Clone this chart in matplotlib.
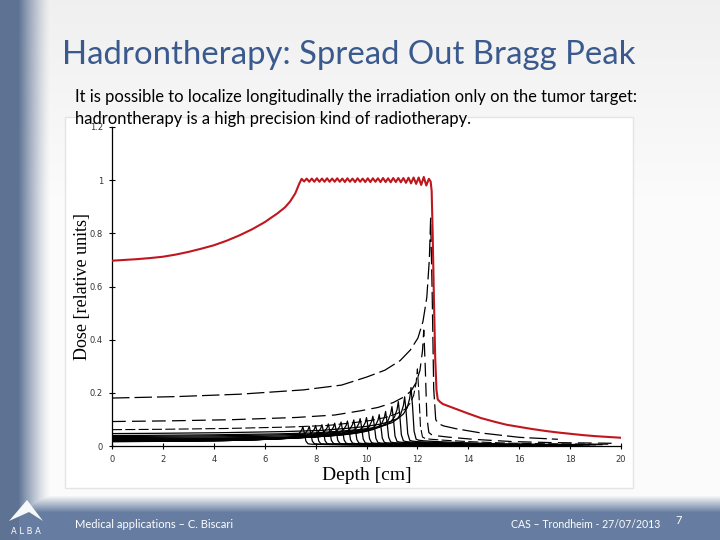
import numpy as np
import matplotlib
matplotlib.use("Agg")
import matplotlib.pyplot as plt
from matplotlib.patches import Rectangle, Polygon

# ---------------- data ----------------
# SOBP (red) curve: depth [cm], dose [rel]
sobp_depth = [0.0, 0.5, 1.0, 1.5, 2.0, 2.5, 3.0, 3.5, 4.0, 4.5, 5.0, 5.5, 6.0, 6.5, 6.8, 7.0, 7.2, 7.35, 7.45,
              7.55, 7.65, 7.75, 7.85, 7.95, 8.05, 8.15, 8.25, 8.35, 8.45, 8.55, 8.65, 8.75, 8.85, 8.95,
              9.05, 9.15, 9.25, 9.35, 9.45, 9.55, 9.65, 9.75, 9.85, 9.95, 10.05, 10.15, 10.25, 10.35,
              10.45, 10.55, 10.65, 10.75, 10.85, 10.95, 11.05, 11.15, 11.25, 11.35, 11.45, 11.55, 11.65,
              11.75, 11.85, 11.95, 12.05, 12.15, 12.25, 12.35, 12.45, 12.52,
              12.56, 12.60, 12.65, 12.70, 12.75, 12.80, 12.90, 13.0, 13.5, 14.0, 14.5, 15.0, 15.5, 16.0,
              16.5, 17.0, 17.5, 18.0, 18.5, 19.0, 19.5, 20.0]
sobp_dose = [0.697, 0.700, 0.703, 0.707, 0.712, 0.720, 0.730, 0.742, 0.755, 0.772, 0.792, 0.815, 0.842, 0.875,
             0.898, 0.920, 0.950, 0.985, 1.005,
             0.995, 1.006, 0.994, 1.006, 0.994, 1.007, 0.994, 1.006, 0.994, 1.007, 0.994, 1.006, 0.994,
             1.007, 0.994, 1.006, 0.993, 1.007, 0.994, 1.006, 0.993, 1.007, 0.994, 1.006, 0.993, 1.007,
             0.993, 1.007, 0.994, 1.007, 0.993, 1.008, 0.993, 1.007, 0.992, 1.008, 0.993, 1.008, 0.992,
             1.008, 0.990, 1.009, 0.988, 1.010, 0.986, 1.010, 0.982, 1.012, 0.980, 1.005, 0.995,
             0.960, 0.800, 0.550, 0.330, 0.210, 0.175, 0.165, 0.158, 0.140, 0.122, 0.105, 0.092, 0.080,
             0.072, 0.064, 0.057, 0.051, 0.046, 0.041, 0.037, 0.034, 0.031]

# single Bragg peak shape read from the largest peak: offset from range [cm] and dose / entrance dose
bragg_offset = [-12.5, -10.0, -7.5, -5.0, -3.5, -2.5, -1.8, -1.2, -0.8, -0.5, -0.3, -0.15, -0.05, 0.0,
                0.06, 0.12, 0.2, 0.3, 0.5, 1.0, 2.0, 3.5, 5.0, 7.5]
bragg_ratio = [1.0, 1.03, 1.08, 1.17, 1.27, 1.44, 1.58, 1.78, 2.0, 2.25, 2.6, 3.1, 3.9, 4.75,
               3.2, 1.2, 0.55, 0.47, 0.42, 0.36, 0.27, 0.18, 0.14, 0.11]

# individual weighted peaks (black): range [cm] and peak dose
peak_range = [7.5, 7.75, 8.0, 8.25, 8.5, 8.75, 9.0, 9.25, 9.5, 9.75, 10.0, 10.25, 10.5, 10.75,
              11.0, 11.25, 11.5, 11.75, 12.0, 12.25, 12.52]
peak_dose = [0.072, 0.074, 0.077, 0.080, 0.083, 0.086, 0.090, 0.094, 0.098, 0.103, 0.107, 0.112,
             0.118, 0.130, 0.148, 0.167, 0.185, 0.220, 0.290, 0.436, 0.857]

x_ticks = [0, 2, 4, 6, 8, 10, 12, 14, 16, 18, 20]
y_ticks = [0, 0.2, 0.4, 0.6, 0.8, 1.0, 1.2]
y_tick_labels = ["0", "0.2", "0.4", "0.6", "0.8", "1", "1.2"]

# ---------------- figure / slide background ----------------
W, H = 720, 540
fig = plt.figure(figsize=(7.2, 5.4), dpi=100)

bg_ax = fig.add_axes([0, 0, 1, 1], zorder=-10)
bg_ax.set_axis_off()
yy, xx = np.mgrid[0:H, 0:W].astype(float)
base = 0.94 + 0.045 * np.clip(yy / 200.0, 0, 1)
img = np.dstack([base, base, base])
slate = np.array([0.37, 0.45, 0.58])
a_left = np.clip((50 - xx) / 32.0, 0, 1) ** 1.3
a_foot = np.clip((yy - 495) / 17.0, 0, 1)
a = np.maximum(a_left, a_foot)
foot_col = np.array([0.40, 0.49, 0.63])
col = np.where(a_foot[..., None] > a_left[..., None], foot_col, slate)
img = img * (1 - a[..., None]) + col * a[..., None]
bg_ax.imshow(img, extent=[0, W, H, 0], aspect="auto")
bg_ax.set_xlim(0, W)
bg_ax.set_ylim(H, 0)

# white picture frame of the chart
bg_ax.add_patch(Rectangle((65, 117), 568, 371, facecolor="white", edgecolor="#e4e4e4", lw=1.0))

# ALBA logo
bg_ax.add_patch(Polygon([[9, 521], [27, 500], [43, 521], [29, 512]], closed=True,
                        facecolor="white", edgecolor="none", alpha=0.95))
bg_ax.text(26, 531, "A L B A", color="white", fontsize=6, ha="center", va="center",
           family="DejaVu Sans")

# title & body text
fig.text(62 / W, 1 - 55 / H, "Hadrontherapy: Spread Out Bragg Peak", color="#3a5a8e",
         fontsize=23.7, family="Lato", ha="left", va="center")
fig.text(75 / W, 1 - 97 / H,
         "It is possible to localize longitudinally the irradiation only on the tumor target:",
         color="black", fontsize=11.9, family="Lato", ha="left", va="center", zorder=20)
fig.text(75 / W, 1 - 119 / H, "hadrontherapy is a high precision kind of radiotherapy.",
         color="black", fontsize=11.9, family="Lato", ha="left", va="center", zorder=20)

# footer
fig.text(75 / W, 1 - 524 / H, "Medical applications \u2013 C. Biscari", color="white",
         fontsize=8, family="Lato", ha="left", va="center")
fig.text(511 / W, 1 - 524 / H, "CAS \u2013 Trondheim - 27/07/2013", color="white",
         fontsize=7.6, family="Lato", ha="left", va="center")
fig.text(675 / W, 1 - 521 / H, "7", color="white", fontsize=8, family="Lato",
         ha="left", va="center")

# ---------------- chart ----------------
ax = fig.add_axes([112 / W, 1 - 446 / H, 509 / W, 319 / H])
ax.set_facecolor("none")
ax.set_xlim(0, 20)
ax.set_ylim(0, 1.2)

off = np.array(bragg_offset)
ratio = np.array(bragg_ratio)
peak_ratio = ratio.max()
for i, (r, pk) in enumerate(zip(peak_range, peak_dose)):
    w = pk / peak_ratio
    xs = r + off
    keep = xs > 0
    x0 = np.array([0.0] + list(xs[keep]))
    y0 = np.array([w * np.interp(-r, off, ratio)] + list(w * ratio[keep]))
    m = x0 <= 20
    if i == len(peak_range) - 1:
        ax.plot(x0[m], y0[m], color="black", lw=0.9, dashes=(14, 4))
    elif i == len(peak_range) - 2:
        ax.plot(x0[m], y0[m], color="black", lw=0.9, dashes=(11, 5))
    elif i == len(peak_range) - 3:
        ax.plot(x0[m], y0[m], color="black", lw=0.8, dashes=(9, 3))
    else:
        ax.plot(x0[m], y0[m], color="black", lw=0.9)

ax.plot(sobp_depth, sobp_dose, color="#c0161e", lw=1.5, zorder=5)

for s in ["top", "right"]:
    ax.spines[s].set_visible(False)
for s in ["left", "bottom"]:
    ax.spines[s].set_linewidth(0.9)
    ax.spines[s].set_color("black")
ax.set_xticks(x_ticks)
ax.set_xticklabels([str(t) for t in x_ticks])
ax.set_yticks(y_ticks)
ax.set_yticklabels(y_tick_labels)
ax.tick_params(direction="inout", length=5, width=0.8, labelsize=6, labelcolor="#333333",
               pad=4)
ax.set_xlabel("Depth [cm]", family="Liberation Serif", fontsize=14, labelpad=2)
ax.set_ylabel("Dose [relative units]", family="Liberation Serif", fontsize=13, labelpad=-1)

fig.savefig("out.png", dpi=100)
